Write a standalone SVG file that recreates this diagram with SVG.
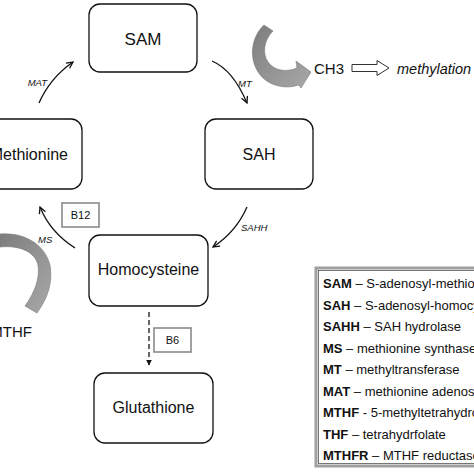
<svg xmlns="http://www.w3.org/2000/svg" width="474" height="474" viewBox="0 0 474 474">
<defs>
<style>
.node rect{fill:#fff;stroke:#111;stroke-width:1.3}
.nt{font-family:"Liberation Sans",Arial,sans-serif;font-size:16px;fill:#111;text-anchor:middle}
.lbl{font-family:"Liberation Sans",Arial,sans-serif;font-size:9.5px;font-style:italic;fill:#111}
.vb rect{fill:#fff;stroke:#8a8a8a;stroke-width:1.6}
.vb text{font-family:"Liberation Sans",Arial,sans-serif;font-size:11px;fill:#111;text-anchor:middle}
.conn{fill:none;stroke:#111;stroke-width:1.3}
.leg{font-family:"Liberation Sans",Arial,sans-serif;font-size:13px;fill:#111}
.leg tspan.b{font-weight:bold}
.band{fill:url(#g);stroke:#7a7a7a;stroke-width:0.6}
</style>
<linearGradient id="g" x1="0" y1="0" x2="1" y2="1">
<stop offset="0" stop-color="#7d7d7d"/>
<stop offset="1" stop-color="#a8a8a8"/>
</linearGradient>
<marker id="open" viewBox="0 0 10 10" refX="9" refY="5" markerWidth="8" markerHeight="8" markerUnits="userSpaceOnUse" orient="auto">
<path d="M1,1 L9,5 L1,9" fill="none" stroke="#111" stroke-width="1.6"/>
</marker>
<marker id="tri" viewBox="0 0 10 10" refX="9" refY="5" markerWidth="6" markerHeight="6" markerUnits="userSpaceOnUse" orient="auto">
<path d="M0,0 L10,5 L0,10 Z" fill="#111"/>
</marker>
</defs>
<rect width="474" height="474" fill="#fff"/>

<g id="connectors">
<path class="conn" d="M39,103 Q50,78 73,62" marker-end="url(#open)"/>
<path class="conn" d="M212,61 Q233,70 247,103" marker-end="url(#open)"/>
<path class="conn" d="M247,207 Q236,232 213,247" marker-end="url(#open)"/>
<path class="conn" d="M75,248 Q50,232 40,207" marker-end="url(#open)"/>
<path class="conn" d="M149,312 L149,365" stroke-dasharray="5,3" marker-end="url(#tri)"/>
<text class="lbl" x="47" y="86" style="text-anchor:end">MAT</text>
<text class="lbl" x="238" y="87">MT</text>
<text class="lbl" x="241" y="231">SAHH</text>
<text class="lbl" x="38" y="243">MS</text>
</g>

<g id="methyl-arrow">
<path class="band" d="M264,25 C250,38 248,62 262,77 C272,87 287,89 299,85 L301,88 L311,72 L296,61 L297,68 C285,73 274,70 268,62 C262,53 264,40 273,31 Z"/>
</g>
<g id="folate-arrow">
<path class="band" d="M0,234 C25,232 45,245 50,265 C53,282 48,298 37,313 L25,306 C35,292 40,278 38,265 C35,252 20,245 0,247 Z"/>
</g>

<g id="SAM" class="node"><rect x="89" y="4" width="108" height="68" rx="11"/><text class="nt" x="143" y="45" style="font-size:17px">SAM</text></g>
<g id="Methionine" class="node"><rect x="-30" y="119" width="112" height="70" rx="11"/><text class="nt" x="68" y="160" style="text-anchor:end">Methionine</text></g>
<g id="SAH" class="node"><rect x="205" y="119" width="108" height="70" rx="11"/><text class="nt" x="259" y="160">SAH</text></g>
<g id="Homocysteine" class="node"><rect x="89" y="235" width="119" height="71" rx="11"/><text class="nt" x="148.5" y="275">Homocysteine</text></g>
<g id="Glutathione" class="node"><rect x="94" y="373" width="119" height="70" rx="11"/><text class="nt" x="153.5" y="413">Glutathione</text></g>

<g id="B12" class="vb"><rect x="62" y="203" width="37" height="24"/><text x="80.5" y="219">B12</text></g>
<g id="B6" class="vb"><rect x="154" y="328" width="37" height="24"/><text x="172.5" y="344">B6</text></g>

<g id="CH3">
<text x="314" y="74" style="font-family:'Liberation Sans',Arial,sans-serif;font-size:15px;fill:#111">CH3</text>
<path d="M352,64.5 L377,64.5 L377,60.5 L389,68 L377,75.5 L377,71.5 L352,71.5 Z" fill="#fff" stroke="#333" stroke-width="1"/>
<text x="397" y="74" style="font-family:'Liberation Sans',Arial,sans-serif;font-size:14.5px;font-style:italic;fill:#111">methylation</text>
</g>

<g id="MTHF"><text x="32" y="337" style="font-family:'Liberation Sans',Arial,sans-serif;font-size:15px;fill:#111;text-anchor:end">MTHF</text></g>

<g id="legend">
<rect x="316" y="268" width="170" height="198" fill="#fff" stroke="#a0a0a0" stroke-width="3"/>
<rect x="318.5" y="270.5" width="170" height="193" fill="none" stroke="#555" stroke-width="0.8"/>
<text class="leg" x="323" y="288"><tspan class="b">SAM</tspan> – S-adenosyl-methionine</text>
<text class="leg" x="323" y="309.5"><tspan class="b">SAH</tspan> – S-adenosyl-homocysteine</text>
<text class="leg" x="323" y="331"><tspan class="b">SAHH</tspan> – SAH hydrolase</text>
<text class="leg" x="323" y="352.5"><tspan class="b">MS</tspan> – methionine synthase</text>
<text class="leg" x="323" y="374"><tspan class="b">MT</tspan> – methyltransferase</text>
<text class="leg" x="323" y="395.5"><tspan class="b">MAT</tspan> – methionine adenosyltransferase</text>
<text class="leg" x="323" y="417"><tspan class="b">MTHF</tspan> - 5-methyltetrahydrofolate</text>
<text class="leg" x="323" y="438.5"><tspan class="b">THF</tspan> – tetrahydrfolate</text>
<text class="leg" x="323" y="460"><tspan class="b">MTHFR</tspan> – MTHF reductase</text>
</g>
</svg>
